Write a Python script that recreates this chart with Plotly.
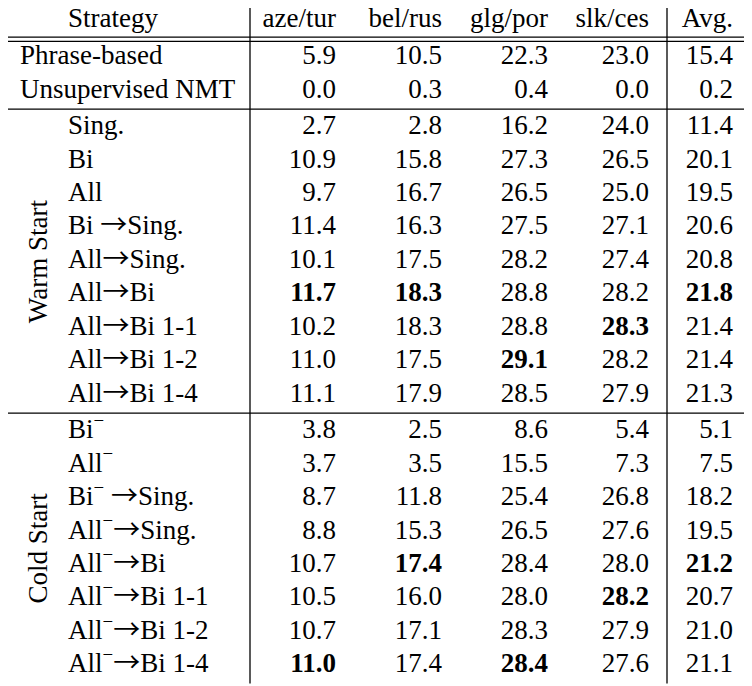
import plotly.graph_objects as go

# table content
columns = ["aze/tur", "bel/rus", "glg/por", "slk/ces", "Avg."]

ARROW = '<span style="font-family:Noto Sans CJK JP">→</span>'
strategies = [
    "Phrase-based", "Unsupervised NMT",
    "Sing.", "Bi", "All", "Bi " + ARROW + "Sing.", "All" + ARROW + "Sing.", "All" + ARROW + "Bi",
    "All" + ARROW + "Bi 1-1", "All" + ARROW + "Bi 1-2", "All" + ARROW + "Bi 1-4",
    "Bi<sup>−</sup>", "All<sup>−</sup>", "Bi<sup>−</sup> " + ARROW + "Sing.",
    "All<sup>−</sup>" + ARROW + "Sing.", "All<sup>−</sup>" + ARROW + "Bi",
    "All<sup>−</sup>" + ARROW + "Bi 1-1", "All<sup>−</sup>" + ARROW + "Bi 1-2",
    "All<sup>−</sup>" + ARROW + "Bi 1-4",
]
groups = ["", ""] + ["Warm Start"] * 9 + ["Cold Start"] * 8

aze_tur = [5.9, 0.0, 2.7, 10.9, 9.7, 11.4, 10.1, 11.7, 10.2, 11.0, 11.1,
           3.8, 3.7, 8.7, 8.8, 10.7, 10.5, 10.7, 11.0]
bel_rus = [10.5, 0.3, 2.8, 15.8, 16.7, 16.3, 17.5, 18.3, 18.3, 17.5, 17.9,
           2.5, 3.5, 11.8, 15.3, 17.4, 16.0, 17.1, 17.4]
glg_por = [22.3, 0.4, 16.2, 27.3, 26.5, 27.5, 28.2, 28.8, 28.8, 29.1, 28.5,
           8.6, 15.5, 25.4, 26.5, 28.4, 28.0, 28.3, 28.4]
slk_ces = [23.0, 0.0, 24.0, 26.5, 25.0, 27.1, 27.4, 28.2, 28.3, 28.2, 27.9,
           5.4, 7.3, 26.8, 27.6, 28.0, 28.2, 27.9, 27.6]
avg = [15.4, 0.2, 11.4, 20.1, 19.5, 20.6, 20.8, 21.8, 21.4, 21.4, 21.3,
       5.1, 7.5, 18.2, 19.5, 21.2, 20.7, 21.0, 21.1]

# rows printed in bold, per column
bold_rows = {
    "aze/tur": [7, 18],
    "bel/rus": [7, 15],
    "glg/por": [9, 18],
    "slk/ces": [8, 16],
    "Avg.": [7, 15],
}

values = [aze_tur, bel_rus, glg_por, slk_ces, avg]

# layout in page pixel units (the page body has an 8px margin)
W, H = 752, 686
PAD = 8
FONT = "Liberation Serif"
FS = 27
row_h = 33.45
header_y = 20
col_right = [336, 442, 548, 649, 733]
vline_x = [250, 667]

# y position of each body row, with a little extra room at each rule
row_y = []
y = 19 + row_h + 5
for i in range(len(strategies)):
    if i == 2 or i == 11:
        y += 3
    row_y.append(y)
    y += row_h

tf = dict(family=FONT, size=FS, color="black")
fig = go.Figure()

# header
fig.add_trace(go.Scatter(
    x=[68], y=[header_y], mode="text", text=["Strategy"],
    textposition="middle right", textfont=tf, cliponaxis=False,
    hoverinfo="skip", showlegend=False))
fig.add_trace(go.Scatter(
    x=col_right, y=[header_y] * len(columns), mode="text", text=columns,
    textposition="middle left", textfont=tf, cliponaxis=False,
    hoverinfo="skip", showlegend=False))

# strategy names
name_x = [20 if g == "" else 68 for g in groups]
fig.add_trace(go.Scatter(
    x=name_x, y=row_y, mode="text", text=strategies,
    textposition="middle right", textfont=tf, cliponaxis=False,
    hoverinfo="skip", showlegend=False))

# numbers
for col, vals, xr in zip(columns, values, col_right):
    txt = []
    for i, v in enumerate(vals):
        s = f"{v:.1f}"
        if i in bold_rows[col]:
            s = "<b>" + s + "</b>"
        txt.append(s)
    fig.add_trace(go.Scatter(
        x=[xr] * len(vals), y=row_y, mode="text", text=txt,
        textposition="middle left", textfont=tf, cliponaxis=False,
        hoverinfo="skip", showlegend=False))

# rotated group labels
for g in ["Warm Start", "Cold Start"]:
    ys = [row_y[i] for i in range(len(groups)) if groups[i] == g]
    fig.add_annotation(x=38, y=(ys[0] + ys[-1]) / 2, text=g, textangle=-90,
                       showarrow=False, font=tf)

# rules
line = dict(color="black", width=1.3)
r0 = (19 + row_y[0]) / 2 + 1
r1 = (row_y[1] + row_y[2]) / 2
r2 = (row_y[10] + row_y[11]) / 2
shapes = [
    dict(type="line", x0=PAD, x1=W, y0=r0 - 2.2, y1=r0 - 2.2, line=line),
    dict(type="line", x0=PAD, x1=W, y0=r0 + 2.2, y1=r0 + 2.2, line=line),
    dict(type="line", x0=PAD, x1=W, y0=r1, y1=r1, line=line),
    dict(type="line", x0=PAD, x1=W, y0=r2, y1=r2, line=line),
]
for xv in vline_x:
    shapes.append(dict(type="line", x0=xv, x1=xv, y0=PAD, y1=row_y[-1] + 18, line=line))
for s in shapes:
    s["xref"] = "x"
    s["yref"] = "y"

fig.update_layout(
    width=W - PAD, height=H - PAD,
    margin=dict(l=0, r=0, t=0, b=0),
    font=dict(family=FONT, size=FS, color="black"),
    paper_bgcolor="white", plot_bgcolor="white",
    xaxis=dict(range=[PAD, W], visible=False, fixedrange=True),
    yaxis=dict(range=[H, PAD], visible=False, fixedrange=True),
    shapes=shapes,
)

fig.write_html("out.html")
